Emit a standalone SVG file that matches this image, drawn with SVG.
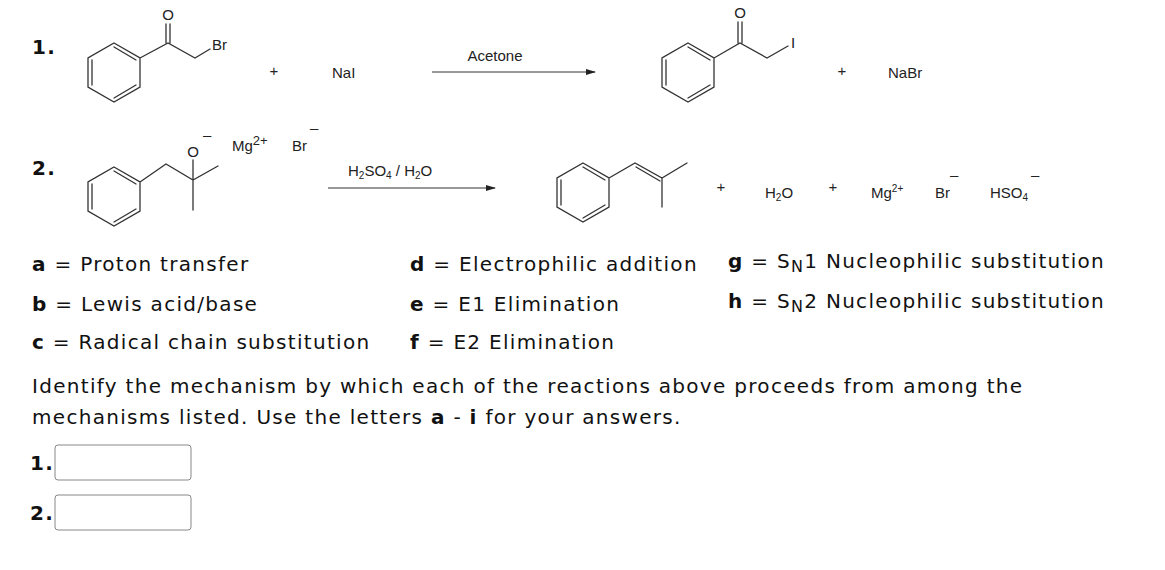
<svg xmlns="http://www.w3.org/2000/svg" width="1165" height="570" viewBox="0 0 1165 570">
<style>
.b{fill:none;stroke:#333;stroke-width:1.3;stroke-linecap:round}
.c{font-family:"Liberation Sans",Arial,sans-serif;font-size:15px;fill:#222}
.s{font-size:10px}
.t{font-family:"DejaVu Sans",Verdana,sans-serif;font-size:20px;fill:#111;letter-spacing:1.3px}
.bd{font-weight:bold}
.box{fill:#fff;stroke:#888;stroke-width:1}
</style>
<defs><marker id="ah" markerWidth="10" markerHeight="8" refX="9" refY="4" orient="auto" markerUnits="userSpaceOnUse"><path d="M0,1 L10,4 L0,7 Z" fill="#222"/></marker></defs>
<rect width="1165" height="570" fill="#fff"/>
<text class="t bd" x="32" y="54">1.</text>
<text class="t bd" x="32" y="175">2.</text>
<g id="r1-reactant">
<path class="b" d="M114,43 L140,58 L140,87 L114,102 L88,87 L88,58 Z M92,60 L92,85 M114,47 L136,60 M114,98 L136,85 M140,58 L168,43 L195,58 L210,49 M166,43 L166,24 M170,43 L170,24"/>
<text class="c" x="168" y="20" text-anchor="middle">O</text>
<text class="c" x="212" y="50">Br</text>
</g>
<text class="c" x="274" y="76" text-anchor="middle">+</text>
<text class="c" x="332" y="78">NaI</text>
<g id="connectors">
<line x1="432" y1="72" x2="595" y2="72" stroke="#333" stroke-width="1" marker-end="url(#ah)"/>
<line x1="328" y1="188" x2="495" y2="188" stroke="#333" stroke-width="1" marker-end="url(#ah)"/>
</g>
<text class="c" x="495" y="61" text-anchor="middle">Acetone</text>
<text class="c" x="348" y="176">H<tspan class="s" dy="3">2</tspan><tspan dy="-3">SO</tspan><tspan class="s" dy="3">4</tspan><tspan dy="-3"> / H</tspan><tspan class="s" dy="3">2</tspan><tspan dy="-3">O</tspan></text>
<g id="r1-product">
<path class="b" d="M688,43 L714,58 L714,87 L688,102 L662,87 L662,58 Z M666,60 L666,85 M688,47 L710,60 M688,98 L710,85 M714,58 L740,43 L767,58 L788,46 M738,43 L738,22 M742,43 L742,22"/>
<text class="c" x="740" y="18" text-anchor="middle">O</text>
<text class="c" x="791" y="48">I</text>
</g>
<text class="c" x="842" y="76" text-anchor="middle">+</text>
<text class="c" x="888" y="78">NaBr</text>
<g id="r2-reactant">
<path class="b" d="M114,167 L140,182 L140,211 L114,226 L88,211 L88,182 Z M92,184 L92,209 M114,171 L136,184 M114,222 L136,209 M140,182 L166,164 L193,180 L218,166 M193,180 L193,210 M193,180 L193,160"/>
<text class="c" x="193" y="157" text-anchor="middle">O</text>
<text class="c" x="203" y="140">–</text>
<text class="c" x="232" y="151">Mg<tspan dy="-6" style="font-size:13px">2+</tspan></text>
<text class="c" x="292" y="151">Br</text>
<text class="c" x="310" y="133">–</text>
</g>
<g id="r2-product">
<path class="b" d="M583,163 L609,178 L609,207 L583,222 L557,207 L557,178 Z M561,180 L561,205 M583,167 L605,180 M583,218 L605,205 M609,178 L635,163 L662,178 L687,163 M636,167 L660,181 M662,178 L662,207"/>
</g>
<text class="c" x="721" y="192" text-anchor="middle">+</text>
<text class="c" x="765" y="198">H<tspan class="s" dy="3">2</tspan><tspan dy="-3">O</tspan></text>
<text class="c" x="833" y="192" text-anchor="middle">+</text>
<text class="c" x="871" y="198">Mg<tspan class="s" dy="-6">2+</tspan></text>
<text class="c" x="935" y="198">Br</text>
<text class="c" x="950" y="180">–</text>
<text class="c" x="990" y="198">HSO<tspan class="s" dy="3">4</tspan></text>
<text class="c" x="1031" y="180">–</text>
<text class="t" x="32" y="271"><tspan class="bd">a</tspan> = Proton transfer</text>
<text class="t" x="32" y="311"><tspan class="bd">b</tspan> = Lewis acid/base</text>
<text class="t" x="32" y="349"><tspan class="bd">c</tspan> = Radical chain substitution</text>
<text class="t" x="410" y="271"><tspan class="bd">d</tspan> = Electrophilic addition</text>
<text class="t" x="410" y="311"><tspan class="bd">e</tspan> = E1 Elimination</text>
<text class="t" x="410" y="349"><tspan class="bd">f</tspan> = E2 Elimination</text>
<text class="t" x="728" y="268"><tspan class="bd">g</tspan> = S<tspan dy="4" style="font-size:16px">N</tspan><tspan dy="-4">1 Nucleophilic substitution</tspan></text>
<text class="t" x="728" y="308"><tspan class="bd">h</tspan> = S<tspan dy="4" style="font-size:16px">N</tspan><tspan dy="-4">2 Nucleophilic substitution</tspan></text>
<text class="t" x="32" y="393">Identify the mechanism by which each of the reactions above proceeds from among the</text>
<text class="t" x="32" y="424">mechanisms listed. Use the letters <tspan class="bd">a</tspan> - <tspan class="bd">i</tspan> for your answers.</text>
<text class="t bd" x="30" y="470">1.</text>
<rect class="box" x="55" y="445" width="136" height="35" rx="3"/>
<text class="t bd" x="30" y="520">2.</text>
<rect class="box" x="55" y="495" width="136" height="35" rx="3"/>
</svg>
